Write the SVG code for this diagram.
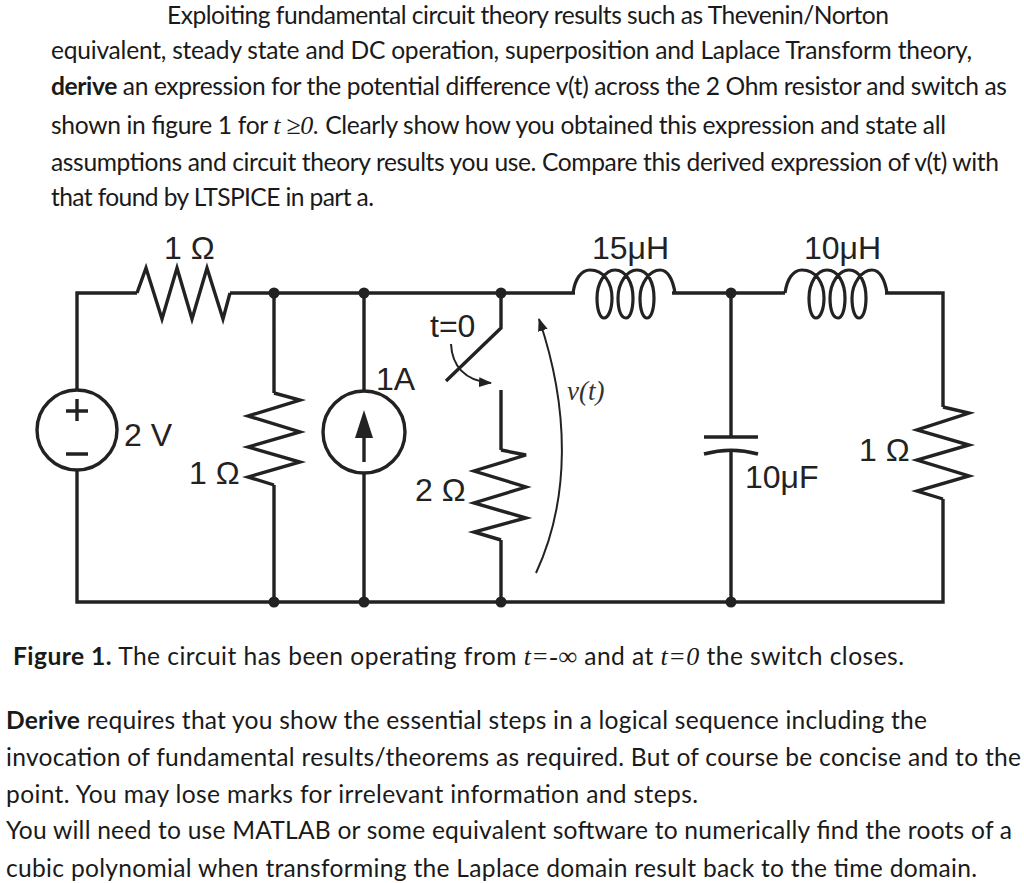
<svg xmlns="http://www.w3.org/2000/svg" width="1024" height="883" viewBox="0 0 1024 883">
<style>
.t{font-family:"Lato","Open Sans",sans-serif;font-size:24.6px;fill:#1a1a1a}
.b{font-weight:700}
.i{font-family:"Liberation Serif",serif;font-style:italic;font-size:26px}
.l{font-family:"Liberation Sans",Arial,sans-serif;font-size:32px;fill:#222}
.w{fill:none;stroke:#222;stroke-width:3.4;stroke-linejoin:miter}
.c{fill:none;stroke:#222;stroke-width:3.2}
.a{fill:none;stroke:#222;stroke-width:2}
.d{fill:#222}
</style>
<defs>
<marker id="tip" markerWidth="14" markerHeight="10" refX="12" refY="5" orient="auto" markerUnits="userSpaceOnUse"><path d="M0 0L13 5L0 10z" fill="#222"/></marker>
<path id="coil" class="c" d="M573 293C575 279 581 270 590 270C604 270 612 283 612 298C612 310 608 318 604 318C600 318 597 310 597 298C597 283 605 270 615 270C626 270 633 283 633 298C633 310 630 318 626 318C621 318 618 310 618 298C618 283 627 270 637 270C648 270 654 283 654 298C654 310 651 318 647 318C643 318 640 310 640 298C640 283 650 270 660 270C668 270 673 280 675 293"/>
</defs>
<g id="text-top">
<text class="t" x="167" y="24" textLength="722">Exploiting fundamental circuit theory results such as Thevenin/Norton</text>
<text class="t" x="51" y="59" textLength="921">equivalent, steady state and DC operation, superposition and Laplace Transform theory,</text>
<text class="t" x="51" y="95" textLength="956"><tspan class="b">derive</tspan> an expression for the potential difference v(t) across the 2 Ohm resistor and switch as</text>
<text class="t" x="51" y="134" textLength="895">shown in figure 1 for <tspan class="i">t ≥0.</tspan>  Clearly show how you obtained this expression and state all</text>
<text class="t" x="51" y="171" textLength="948">assumptions and circuit theory results you use. Compare this derived expression of v(t) with</text>
<text class="t" x="51" y="206" textLength="323">that found by LTSPICE in part a.</text>
</g>
<g id="connectors">
<path class="w" d="M137 293H77V390M77 470V602H943V499M943 407V293H885M785 293H672M575 293H230M274 293V393M274 485V602M364 293V391M364 473V602M501 293V328L446 381M501 390V450M501 540V602M731 293V437M731 452V602"/>
</g>
<g id="R1"><path class="w" d="M137 293L146 268L162 319L177 268L192 319L207 268L223 319L230 293"/><text class="l" x="164" y="259">1 Ω</text></g>
<g id="V1"><circle class="w" cx="77" cy="430" r="40"/><path class="w" d="M66 411H88M77 399V421M66 454H88"/><text class="l" x="124" y="446">2 V</text></g>
<g id="R2"><path class="w" d="M274 393L300 400L248 416L300 432L248 447L300 462L248 477L274 485"/><text class="l" x="189" y="484">1 Ω</text></g>
<g id="I1"><circle class="w" cx="364" cy="432" r="41"/><path class="w" d="M364 462V425"/><path class="d" d="M364 410L373 438H355z"/><text class="l" x="376" y="390">1A</text></g>
<g id="S1"><text class="l" x="430" y="337">t=0</text><path class="a" d="M451 344C452 365 464 381 491 383" marker-end="url(#tip)"/></g>
<g id="R3"><path class="w" d="M501 450L526 455L474 471L526 487L474 503L526 518L474 532L501 540"/><text class="l" x="415" y="501">2 Ω</text></g>
<g id="V-label"><path class="a" d="M536 573C570 500 570 410 539 319" marker-end="url(#tip)"/><text class="i" x="567" y="400" style="font-size:27px" fill="#333">v(t)</text></g>
<g id="L1"><use href="#coil"/><text class="l" x="592" y="259">15μH</text></g>
<g id="L2"><use href="#coil" x="212"/><text class="l" x="804" y="259">10μH</text></g>
<g id="C1"><path class="w" d="M704 437H758M704 454C722 449 740 449 758 454"/><text class="l" x="745" y="488">10μF</text></g>
<g id="R4"><path class="w" d="M943 407L969 413L917 430L969 445L917 460L969 476L917 491L943 499"/><text class="l" x="859" y="461">1 Ω</text></g>
<g id="junctions">
<circle class="d" cx="274" cy="293" r="5.5"/><circle class="d" cx="364" cy="293" r="5.5"/><circle class="d" cx="501" cy="293" r="5.5"/><circle class="d" cx="731" cy="293" r="5.5"/>
<circle class="d" cx="274" cy="602" r="5.5"/><circle class="d" cx="364" cy="602" r="5.5"/><circle class="d" cx="501" cy="602" r="5.5"/><circle class="d" cx="731" cy="602" r="5.5"/>
</g>
<g id="text-bottom">
<text class="t" x="13" y="665" textLength="891"><tspan class="b">Figure 1.</tspan> The circuit has been operating from <tspan class="i">t=-∞</tspan> and at <tspan class="i">t=0</tspan> the switch closes.</text>
<text class="t" x="6" y="729" textLength="921"><tspan class="b">Derive</tspan> requires that you show the essential steps in a logical sequence including the</text>
<text class="t" x="6" y="766" textLength="1015">invocation of fundamental results/theorems as required. But of course be concise and to the</text>
<text class="t" x="6" y="803" textLength="692">point. You may lose marks for irrelevant information and steps.</text>
<text class="t" x="6" y="839" textLength="1006">You will need to use MATLAB or some equivalent software to numerically find the roots of a</text>
<text class="t" x="6" y="877" textLength="971">cubic polynomial when transforming the Laplace domain result back to the time domain.</text>
</g>
</svg>
